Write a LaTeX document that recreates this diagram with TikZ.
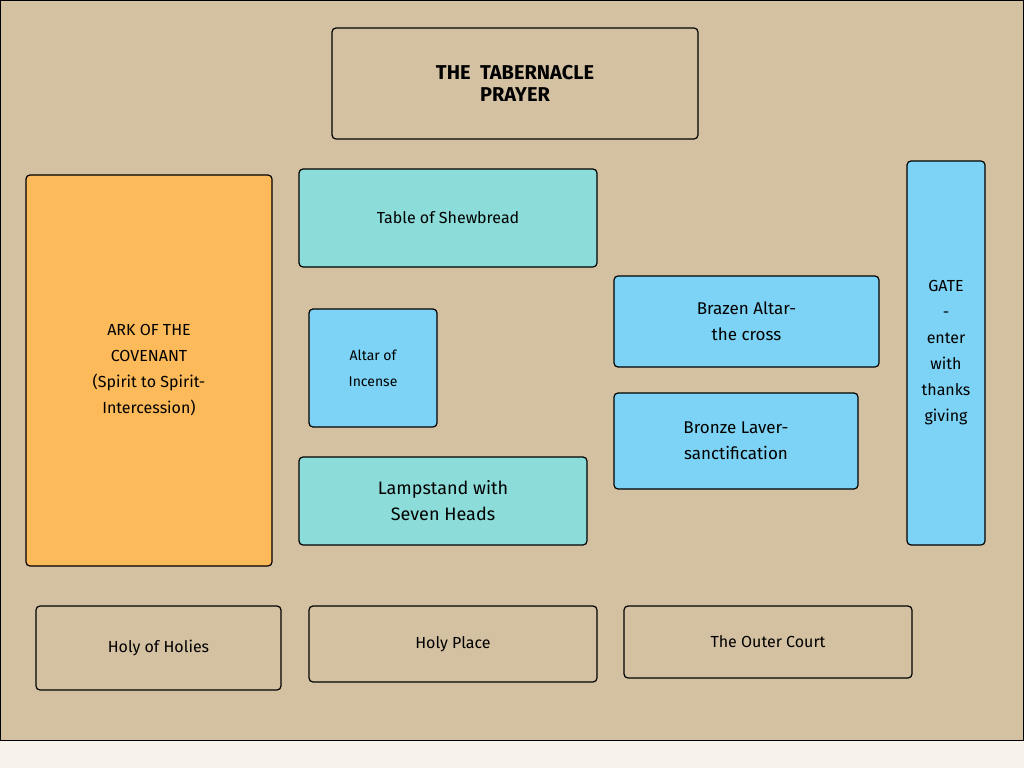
\documentclass[tikz,border=0pt]{standalone}
\usepackage{fontspec}
\setmainfont{Fira Sans}
\definecolor{tan}{HTML}{D4C1A2}
\definecolor{ark}{HTML}{FDBA5A}
\definecolor{teal}{HTML}{8CDCD9}
\definecolor{sky}{HTML}{7DD3F5}
\definecolor{strip}{HTML}{F7F3EA}
\begin{document}
\begin{tikzpicture}[x=1pt,y=-1pt,
 box/.style={draw=black,line width=1.2pt,rounded corners=4pt,align=center,font=\fontsize{16}{26}\selectfont},
 lbl/.style={align=center,font=\fontsize{16}{26}\selectfont}]
\useasboundingbox (0,0) rectangle (1024,768);
\fill[strip] (0,0) rectangle (1024,768);
\draw[fill=tan,line width=1pt] (0.5,0.5) rectangle (1023.5,740);
\newcommand\bx[7]{\draw[box,fill=#6] (#2,#3) rectangle (#4,#5); \node[lbl] (#1) at ({(#2+#4)/2},{(#3+#5)/2}) {#7};}
\bx{title}{332}{28}{698}{139}{tan}{\fontsize{20}{34}\selectfont\bfseries THE\ \ TABERNACLE\\[-4pt]\bfseries\fontsize{20}{34}\selectfont PRAYER}
\bx{ark}{26}{175}{272}{566}{ark}{ARK OF THE\\COVENANT\\(Spirit to Spirit-\\Intercession)}
\bx{table}{299}{169}{597}{267}{teal}{Table of Shewbread}
\bx{incense}{309}{309}{437}{427}{sky}{\fontsize{14}{32}\selectfont Altar of\\\fontsize{14}{18}\selectfont Incense}
\bx{lamp}{299}{457}{587}{545}{teal}{\fontsize{18}{38}\selectfont Lampstand with\\\fontsize{18}{22}\selectfont Seven Heads}
\bx{brazen}{614}{276}{879}{367}{sky}{\fontsize{17}{35}\selectfont Brazen Altar-\\\fontsize{17}{21}\selectfont the cross}
\bx{laver}{614}{393}{858}{489}{sky}{\fontsize{17}{35}\selectfont Bronze Laver-\\\fontsize{17}{21}\selectfont sanctification}
\bx{gate}{907}{161}{985}{545}{sky}{GATE\\-\\enter\\with\\thanks\\giving}
\bx{hoh}{36}{606}{281}{690}{tan}{Holy of Holies}
\bx{hp}{309}{606}{597}{682}{tan}{Holy Place}
\bx{oc}{624}{606}{912}{678}{tan}{The Outer Court}
\end{tikzpicture}
\end{document}
